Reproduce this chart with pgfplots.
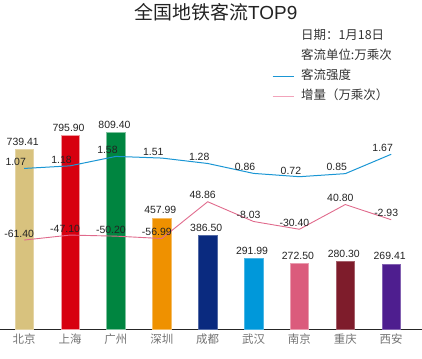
\documentclass[border=0pt]{standalone}
\usepackage{fontspec}
\setmainfont{Liberation Sans}
\newfontfamily\cjk{Noto Sans CJK SC}
\usepackage{pgfplots}
\pgfplotsset{compat=1.18}
\definecolor{cBJ}{HTML}{D8C27E}
\definecolor{cSH}{HTML}{D7000F}
\definecolor{cGZ}{HTML}{008540}
\definecolor{cSZ}{HTML}{EF9100}
\definecolor{cCD}{HTML}{0A2A7F}
\definecolor{cWH}{HTML}{0098DA}
\definecolor{cNJ}{HTML}{DB5B7C}
\definecolor{cCQ}{HTML}{7E1C2B}
\definecolor{cXA}{HTML}{4E1E8F}
\definecolor{lblue}{HTML}{1A96D4}
\definecolor{lpink}{HTML}{E06A8C}
\definecolor{lpinkleg}{HTML}{F2A3BA}
\definecolor{txt}{HTML}{222222}
\begin{document}
\begin{tikzpicture}[x=1bp,y=1bp]
\path[use as bounding box] (0,0) rectangle (422,359);
\pgfplotsset{base/.style={scale only axis, width=422bp, height=299.5bp,
  at={(0bp,29.5bp)}, anchor=south west, xmin=-0.5275, xmax=8.672,
  /pgf/number format/assume math mode=true, clip=false}}
\node[text=txt, inner sep=0pt] at (216,347) {{\cjk\fontsize{19}{19}\selectfont 全国地铁客流}{\fontsize{19}{19}\selectfont TOP9}};
% bars
\begin{axis}[base, ymin=0, ymax=1227.5,
  axis x line=bottom, axis y line=none,
  axis line style={-, draw=black!85, line width=0.9bp},
  xtick={0,1,2,3,4,5,6,7,8},
  xticklabels={北京,上海,广州,深圳,成都,武汉,南京,重庆,西安},
  xticklabel style={font=\cjk\fontsize{11.5}{12}\selectfont, text=black!55, yshift=-1bp},
  major tick length=0pt, ytick=\empty,
  ybar, bar width=18.5bp,
  nodes near coords={\pgfmathprintnumber[fixed,fixed zerofill,precision=2]{\pgfplotspointmeta}},
  every node near coord/.append style={anchor=center, xshift=-1.5bp, yshift=7.5bp, font=\fontsize{10.5}{10.5}\selectfont, text=txt},
]
\addplot[bar shift=0pt, fill=cBJ, draw=cBJ!70!white] coordinates {(0,739.41)};
\addplot[bar shift=0pt, fill=cSH, draw=cSH!40!white] coordinates {(1,795.90)};
\addplot[bar shift=0pt, fill=cGZ, draw=cGZ!50!white] coordinates {(2,809.40)};
\addplot[bar shift=0pt, fill=cSZ, draw=cSZ!60!white] coordinates {(3,457.99)};
\addplot[bar shift=0pt, fill=cCD, draw=cCD!70!white] coordinates {(4,386.50)};
\addplot[bar shift=0pt, fill=cWH, draw=cWH!70!white] coordinates {(5,291.99)};
\addplot[bar shift=0pt, fill=cNJ, draw=cNJ!60!white] coordinates {(6,272.50)};
\addplot[bar shift=0pt, fill=cCQ, draw=cCQ!70!white] coordinates {(7,280.30)};
\addplot[bar shift=0pt, fill=cXA, draw=cXA!70!white] coordinates {(8,269.41)};
\end{axis}
% intensity line
\begin{axis}[base, ymin=-5.754, ymax=6.936, hide axis]
\addplot[color=lblue, line width=1bp, mark=none,
  nodes near coords={\pgfmathprintnumber[fixed,fixed zerofill,precision=2]{\pgfplotspointmeta}},
  every node near coord/.append style={anchor=center, xshift=-8.5bp, yshift=6.3bp, font=\fontsize{10.5}{10.5}\selectfont, text=txt}]
  coordinates {(0,1.07) (1,1.18) (2,1.58) (3,1.51) (4,1.28) (5,0.86) (6,0.72) (7,0.85) (8,1.67)};
\end{axis}
% increment line + legend
\begin{axis}[base, ymin=-318.9, ymax=543.2, hide axis,
  legend style={draw=none, fill=none, at={(0.6445,1.0008)}, anchor=north west,
    font=\cjk\fontsize{12.5}{13}\selectfont, text=black!80, inner sep=0pt,
    nodes={inner sep=0pt, text height=10bp, text depth=2.5bp},
    row sep=7.5bp, column sep=7bp, cells={anchor=west}},
  legend image code/.code={\draw[#1] (0bp,0bp) -- (21bp,0bp);},
]
\addlegendimage{empty legend}
\addlegendentry{日期：1月18日}
\addlegendimage{empty legend}
\addlegendentry{客流单位:万乘次}
\addlegendimage{color=lblue, line width=1bp}
\addlegendentry{客流强度}
\addlegendimage{color=lpinkleg, line width=1bp}
\addlegendentry{增量（万乘次）}
\addplot[forget plot, color=lpink, line width=0.9bp, mark=none,
  nodes near coords={\pgfmathprintnumber[fixed,fixed zerofill,precision=2]{\pgfplotspointmeta}},
  every node near coord/.append style={anchor=center, xshift=-5bp, yshift=6.5bp, font=\fontsize{10.5}{10.5}\selectfont, text=txt}]
  coordinates {(0,-61.40) (1,-47.10) (2,-50.20) (3,-56.99) (4,48.86) (5,-8.03) (6,-30.40) (7,40.80) (8,-2.93)};
\end{axis}
\end{tikzpicture}
\end{document}
